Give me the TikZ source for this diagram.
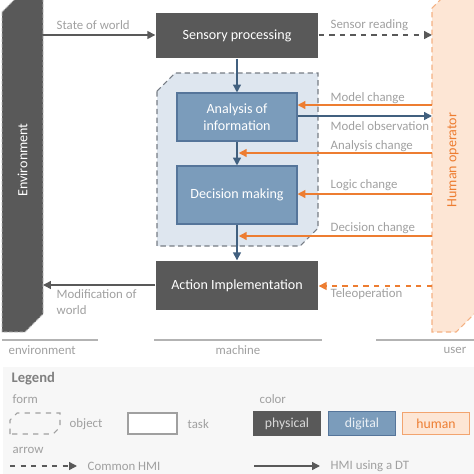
\documentclass[tikz,border=0pt]{standalone}
\usepackage{fontspec}
\setmainfont{Carlito}
\usetikzlibrary{shapes,arrows.meta,positioning,calc}

\definecolor{physical}{HTML}{595959}
\definecolor{digital}{HTML}{7B9CBB}
\definecolor{digitalline}{HTML}{55759A}
\definecolor{digitalbg}{HTML}{DEE6EF}
\definecolor{human}{HTML}{ED7D31}
\definecolor{humanbg}{HTML}{FDE6D5}
\definecolor{flowblue}{HTML}{41607F}
\definecolor{annotgray}{HTML}{A0A0A0}
\definecolor{legendbg}{HTML}{F7F7F7}

\begin{document}
\begin{tikzpicture}[x=0.02cm, y=-0.02cm, line width=0.8pt, >={Triangle[length=4.5pt,width=4.5pt]}]
    \tikzstyle{box}=[rectangle, minimum width=3.24cm, text=white, font=\fontsize{8}{9.5}\selectfont, align=center]
    \tikzstyle{physical box}=[box, fill=physical]
    \tikzstyle{digital box}=[box, fill=digital, draw=digitalline, line width=0.6pt, minimum width=2.4cm]
    \tikzstyle{annot}=[anchor=west, inner sep=0pt, text=annotgray, font=\fontsize{7.3}{9.1}\selectfont]
    \tikzstyle{human arrow}=[->, draw=human]
    \tikzstyle{sep}=[draw=annotgray!80, line width=1pt]
    \tikzstyle{swatch}=[rectangle, line width=0.6pt, minimum width=1.34cm, minimum height=0.42cm, font=\fontsize{7.8}{9}\selectfont]

    \useasboundingbox (0,0) rectangle (474,474);

    % Draw the legend background
    \fill[legendbg] (3,367) rectangle (476,476);

    % Draw the objects: environment, digital part, human operator
    \draw[fill=physical, draw=gray!55, dash pattern=on 2pt off 1pt, line width=0.5pt]
        (2,12) -- (16,-2) -- (43,-2) -- (43,314) -- (25,332) -- (2,332) -- cycle;
    \node[rotate=90, text=white, font=\fontsize{8}{9.5}\selectfont] (Env) at (22.5,160) {Environment};
    \draw[fill=digitalbg, draw=gray!80!digitalline, dash pattern=on 3pt off 2pt, line width=0.6pt]
        (157,91) -- (175,73) -- (318,73) -- (318,228) -- (300,246) -- (157,246) -- cycle;
    \draw[fill=humanbg, draw=human!60, dash pattern=on 3pt off 2pt, line width=0.6pt]
        (432,8) -- (442,-2) -- (476,-2) -- (476,312) -- (456,332) -- (432,332) -- cycle;
    \node[rotate=90, text=human, font=\fontsize{8}{9.5}\selectfont] (HO) at (453,160) {Human operator};

    % Draw the tasks
    \node[physical box, minimum height=0.9cm] (SP) at (237,35.5) {Sensory processing};
    \node[digital box, minimum height=0.96cm] (AoI) at (237,117) {Analysis of\\information};
    \node[digital box, minimum height=1.16cm] (DM) at (237,195) {Decision making};
    \node[physical box, minimum height=0.98cm] (AI) at (237,285.5) {Action Implementation};

    % Connection points on the environment and the operator
    \coordinate (E-in) at (43,35);
    \coordinate (E-out) at (43,285);
    \foreach \name/\y in {sensor/35, model/105, obs/116, analysis/153, logic/194, decision/236, tele/286}
        \coordinate (U-\name) at (432,\y);

    % Main flow through the machine
    \draw[->, draw=physical] (E-in) -- (SP.west |- E-in);
    \draw[->, draw=flowblue] (SP) -- (AoI);
    \draw[->, draw=flowblue] (AoI) -- (DM);
    \draw[->, draw=flowblue] (DM) -- (AI);
    \draw[->, draw=physical] (AI.west |- E-out) -- (E-out);

    % Interfaces with the operator
    \draw[->, dashed, draw=physical] (SP.east |- U-sensor) -- (U-sensor);
    \draw[human arrow] (U-model) -- (U-model -| AoI.east);
    \draw[->, draw=flowblue] (U-obs -| AoI.east) -- (U-obs);
    \draw[human arrow, shorten >=1pt] (U-analysis) -- (U-analysis -| AoI.south);
    \draw[human arrow] (U-logic) -- (U-logic -| DM.east);
    \draw[human arrow, shorten >=1pt] (U-decision) -- (U-decision -| DM.south);
    \draw[human arrow, dashed] (U-tele) -- (U-tele -| AI.east);

    % Annotate the connectors
    \foreach \name/\txt/\y in {sensor/Sensor reading/25, model/Model change/98, obs/Model observation/126,
            analysis/Analysis change/146.5, logic/Logic change/185, decision/Decision change/228, tele/Teleoperation/294}
        \node[annot] (A-\name) at (330,\y) {\txt};
    \node[annot] (A-state) at (56,25) {State of world};
    \node[annot, align=left] (A-mod) at (56,302) {Modification of\\world};

    % Separate the domains
    \draw[sep] (2,340) -- (98,340);
    \draw[sep] (154,340) -- (322,340);
    \draw[sep] (376,340) -- (474,340);
    \node[annot] (S-env) at (8,350) {environment};
    \node[annot, anchor=center] (S-mach) at (238,350) {machine};
    \node[annot] (S-user) at (443,350) {user};

    % Legend
    \node[annot, text=gray, font=\bfseries\fontsize{8.3}{10}\selectfont] (Leg) at (11,379) {Legend};
    \node[annot] (L-form) at (12,399) {form};
    \draw[draw=annotgray, dashed, line width=0.6pt]
        (10,434) -- (10,420) -- (17,413) -- (60,413) -- (60,427) -- (53,434) -- cycle;
    \node[annot] (L-obj) at (69,424) {object};
    \node[swatch, draw=annotgray, fill=white, minimum width=0.98cm] (L-task) at (152.5,423.5) {};
    \node[annot] (L-tasktxt) at (187,424) {task};
    \node[annot] (L-color) at (259,399) {color};
    \foreach \name/\fillc/\drawc/\txtc/\x in {physical/physical/physical/white!85!black/287,
            digital/digital/digitalline/white!85!digital/362, human/humanbg/human!70/human/436}
        \node[swatch, draw=\drawc, fill=\fillc, text=\txtc] (C-\name) at (\x,423.5) {\name};
    \node[annot] (L-arrow) at (12,450) {arrow};
    \coordinate (LA-1) at (10,466);
    \coordinate (LA-2) at (77,466);
    \coordinate (LB-1) at (254,466);
    \coordinate (LB-2) at (320,466);
    \draw[->, dashed, draw=physical] (LA-1) -- (LA-2);
    \draw[->, draw=physical] (LB-1) -- (LB-2);
    \node[annot] (L-hmi) at (87,466.5) {Common HMI};
    \node[annot] (L-dt) at (330,466.5) {HMI using a DT};
\end{tikzpicture}
\end{document}
